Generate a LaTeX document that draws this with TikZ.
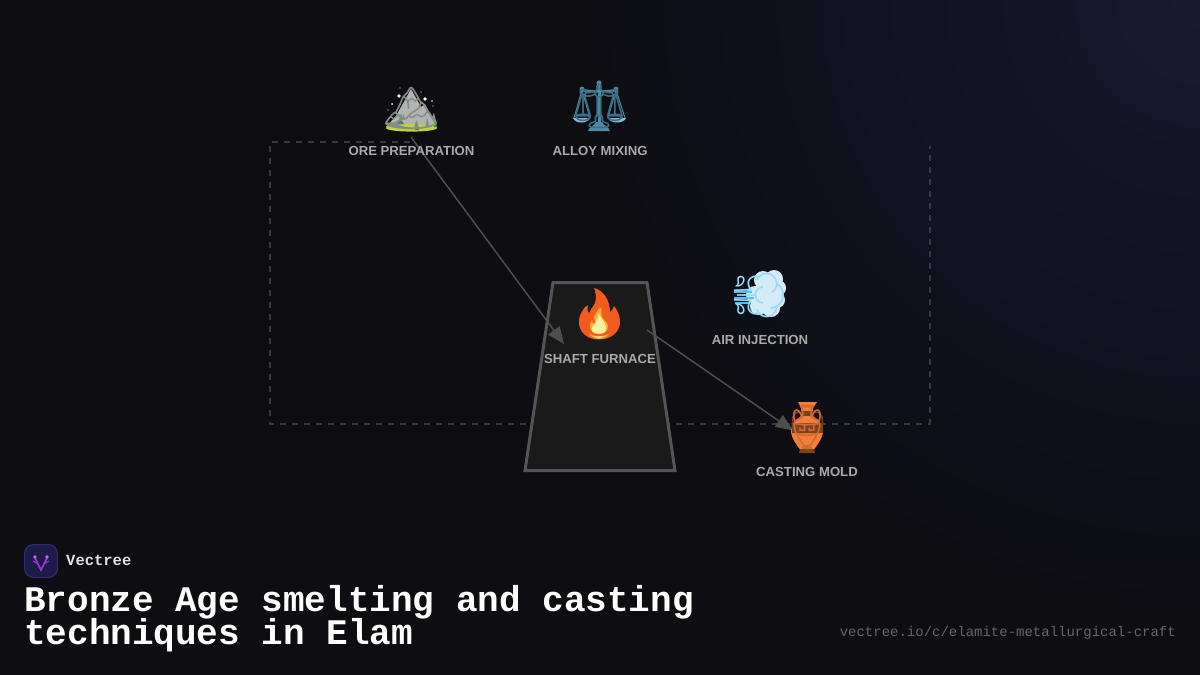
\documentclass[tikz,border=0pt]{standalone}
\usepackage{fontspec}
\setmainfont{Liberation Sans}
\setmonofont{Liberation Mono}
\newfontfamily\emojifont{Noto Emoji}
\definecolor{PageDark}  {RGB}{13,13,18}
\definecolor{PageBlue}  {RGB}{24,24,50}
\definecolor{GuideGray} {RGB}{58,58,60}
\definecolor{WireGray}  {RGB}{78,78,78}
\definecolor{ShaftFill} {RGB}{26,26,26}
\definecolor{ShaftLine} {RGB}{85,85,85}
\definecolor{LabelGray} {RGB}{170,170,170}
\definecolor{UrlGray}   {RGB}{102,102,102}
\definecolor{LogoFill}  {RGB}{30,27,75}
\definecolor{LogoLine}  {RGB}{49,46,110}
\definecolor{LogoMark}  {RGB}{160,50,215}
\definecolor{RockGray}  {RGB}{178,180,178}
\definecolor{RockDark}  {RGB}{135,139,137}
\definecolor{GrassLime} {RGB}{190,215,50}
\definecolor{PineGreen} {RGB}{60,140,60}
\definecolor{ScaleBlue} {RGB}{78,138,165}
\definecolor{PanBlue}   {RGB}{135,190,210}
\definecolor{FlameRed}  {RGB}{244,90,30}
\definecolor{FlameGold} {RGB}{255,175,50}
\definecolor{FlameCore} {RGB}{255,240,160}
\definecolor{CloudBlue} {RGB}{212,236,247}
\definecolor{WindBlue}  {RGB}{79,195,247}
\definecolor{VaseOrange}{RGB}{244,125,60}
\definecolor{VaseBrown} {RGB}{125,65,30}
\usetikzlibrary{arrows.meta,positioning,calc,shapes.geometric}
\tikzset{
  steplabel/.style={font=\bfseries\fontsize{13.15}{15}\selectfont,text=LabelGray,inner sep=0pt},
  emojimark/.style={font=\emojifont\fontsize{44}{44}\selectfont,inner sep=0pt},
  wire/.style={WireGray,line width=1.5pt,-{Triangle[length=17pt,width=14pt]}},
  guide/.style={GuideGray,line width=2pt,dash pattern=on 6pt off 6pt},
  titleline/.style={anchor=base west,inner sep=0pt,text=white,font=\ttfamily\bfseries\fontsize{36}{36}\selectfont},
}
\begin{document}
\begin{tikzpicture}[x=1pt,y=-1pt]
  \useasboundingbox (0,0) rectangle (1200,675);
  \fill[PageDark] (0,0) rectangle (1200,675);
  \begin{scope}
    \clip (0,0) rectangle (1200,675);
    \shade[inner color=PageBlue,outer color=PageDark] (1200,0) circle (620);
  \end{scope}
  %% Dashed guide
  \draw[guide] (410,141.5)--(270,141.5)--(270,423.5)--(929.5,423.5)--(929.5,146);
  %% Shaft furnace
  \draw[ShaftLine,fill=ShaftFill,line width=3pt,miter limit=4]
       (553,282.5)--(647,282.5)--(675,470.5)--(525,470.5)--cycle;
  \coordinate (furnaceIn) at (564,344);
  \coordinate (furnaceOut) at (647,330);
  \node[minimum width=60pt,minimum height=60pt,inner sep=0pt] (oreIcon) at (411,107) {};
  \node[minimum width=28pt,minimum height=50pt,inner sep=0pt] (moldIcon) at (807,430.5) {};
  %% Connectors
  \draw[wire] (oreIcon.south)--(furnaceIn);
  \draw[wire] (furnaceOut)--(moldIcon.west);
  %% Mountain
  \fill[RockGray] (386,127)--(396,116)--(411,89)--(421,107)--(425,104)--(434,122)--(437,127)--cycle;
  \fill[GrassLime] (411.5,128) ellipse (25.5 and 3.6);
  \fill[PineGreen] (396,124)--(400,118)--(404,124)--cycle (434,127)--(435,118)--(437,127)--cycle (415,130)--(417,124)--(419,130)--cycle;
  \foreach \sx/\sy/\sr in {399/96/1.8,425/99/1.8,392/104/1,432/101/0.8,388/110/0.7,433/106/0.7,400/88/0.6,421/92/0.6}
    \fill[white] (\sx,\sy) circle (\sr);
  %% Scales
  \draw[ScaleBlue,line width=3pt] (599,84)--(599,124);
  \draw[ScaleBlue,line width=2.5pt] (582,90) .. controls (590,92) and (608,92) .. (616,90);
  \fill[ScaleBlue] (599,83) circle (2.6) (582,89) circle (2.4) (616,89) circle (2.4);
  \draw[ScaleBlue,line width=1pt] (582,90)--(574,118) (582,90)--(590,118) (616,90)--(608,118) (616,90)--(625,118);
  \fill[PanBlue] (573,118) .. controls (575,124) and (588,124) .. (590,118)--cycle;
  \fill[PanBlue] (608,118) .. controls (610,124) and (624,124) .. (626,118)--cycle;
  \fill[ScaleBlue] (588,131) .. controls (589,127) and (594,126) .. (596,122)--(602,122) .. controls (604,126) and (609,127) .. (610,131)--cycle;
  %% Flame
  \fill[FlameRed] (599,339.5) .. controls (586,339.5) and (578,331) .. (579,320)
       .. controls (579.5,314) and (583,310) .. (586,306) .. controls (586,310) and (587,312) .. (589,313)
       .. controls (596,305) and (598,296) .. (594,288) .. controls (603,290) and (610,300) .. (610,312)
       .. controls (612,311) and (613,309) .. (614,306) .. controls (618,311) and (620,316) .. (620,322)
       .. controls (620,332) and (611,339.5) .. (599,339.5)--cycle;
  \fill[FlameGold] (599,339) .. controls (590,338) and (586,332) .. (588,326) .. controls (590,320) and (596,316) .. (599,306)
       .. controls (604,312) and (612,320) .. (611,328) .. controls (610,335) and (605,339) .. (599,339)--cycle;
  \fill[FlameCore] (599,338) .. controls (593,337) and (590,333) .. (592,328) .. controls (594,323) and (598,320) .. (599,314)
       .. controls (602,320) and (607,324) .. (606,330) .. controls (605,335) and (603,338) .. (599,338)--cycle;
  %% Wind
  \foreach \cx/\cy/\cr in {763/280/9,774/279/9,778/288/8,777/300/8,771/308/9,759/306/9,755/295/9,767/294/14}
    \fill[CloudBlue] (\cx,\cy) circle (\cr);
  \draw[WindBlue,line width=2pt] (734,292)--(752,292) (734,298)--(754,298) (735,303)--(750,303);
  %% Vase
  \draw[VaseBrown,line width=1.6pt] (799,412) .. controls (792,412) and (792,420) .. (793,428) (815,412) .. controls (823,412) and (823,420) .. (822,428);
  \fill[VaseOrange] (798,402)--(817,402)--(813,408)--(813,416) .. controls (818,420) and (823,424) .. (823,431)
       .. controls (823,438) and (817,445) .. (813,451)--(801,451) .. controls (797,445) and (791,438) .. (791,431)
       .. controls (791,424) and (797,420) .. (801,416)--(801,408)--cycle;
  \fill[VaseBrown] (801,411)--(813,411)--(813,416)--(801,416)--cycle;
  \fill[VaseBrown] (791.5,423)--(822.5,423)--(823,433)--(792,433)--cycle;
  \fill[VaseBrown] (800,449)--(814,449)--(815,453)--(799,453)--cycle;
  %% Emoji outlines
  \node[emojimark,text=RockDark] (oreGlyph) at (411,108) {🏔};
  \node[emojimark,text=ScaleBlue!80!black] (alloyGlyph) at (599,106) {⚖};
  \node[emojimark,text=FlameRed] (fireGlyph) at (599,314) {🔥};
  \node[emojimark,text=CloudBlue!55!WindBlue] (airGlyph) at (759,295) {💨};
  \node[emojimark,text=VaseOrange!70!VaseBrown] (moldGlyph) at (807,427) {🏺};
  %% Labels
  \node[steplabel] (oreLabel) at (411.5,151) {ORE PREPARATION};
  \node[steplabel] (alloyLabel) at (600,151) {ALLOY MIXING};
  \node[steplabel] (shaftLabel) at (600,359) {SHAFT FURNACE};
  \node[steplabel] (airLabel) at (760,340) {AIR INJECTION};
  \node[steplabel] (moldLabel) at (807,472) {CASTING MOLD};
  %% Brand
  \node[draw=LogoLine,fill=LogoFill,rounded corners=9pt,line width=1pt,minimum size=33pt,inner sep=0pt] (logoBox) at (41,561) {};
  \draw[LogoMark,line width=1.6pt] (35,558)--(41,570)--(47,558);
  \draw[LogoMark,line width=1pt] (33,561)--(38,564) (49,561)--(44,564);
  \fill[LogoMark!70!white] (35,557) circle (1.9) (47,557) circle (1.9);
  \node[anchor=base west,inner sep=0pt,text=white!88!black,font=\ttfamily\bfseries\fontsize{15.5}{18}\selectfont] (brandName) at (66,565) {Vectree};
  \node[titleline] (titleTop) at (24,611) {Bronze Age smelting and casting};
  \node[titleline] (titleLow) at (24,644) {techniques in Elam};
  \node[anchor=base east,inner sep=0pt,text=UrlGray,font=\ttfamily\fontsize{14}{16}\selectfont] (urlText) at (1176,636.5) {vectree.io/c/elamite-metallurgical-craft};
\end{tikzpicture}
\end{document}
